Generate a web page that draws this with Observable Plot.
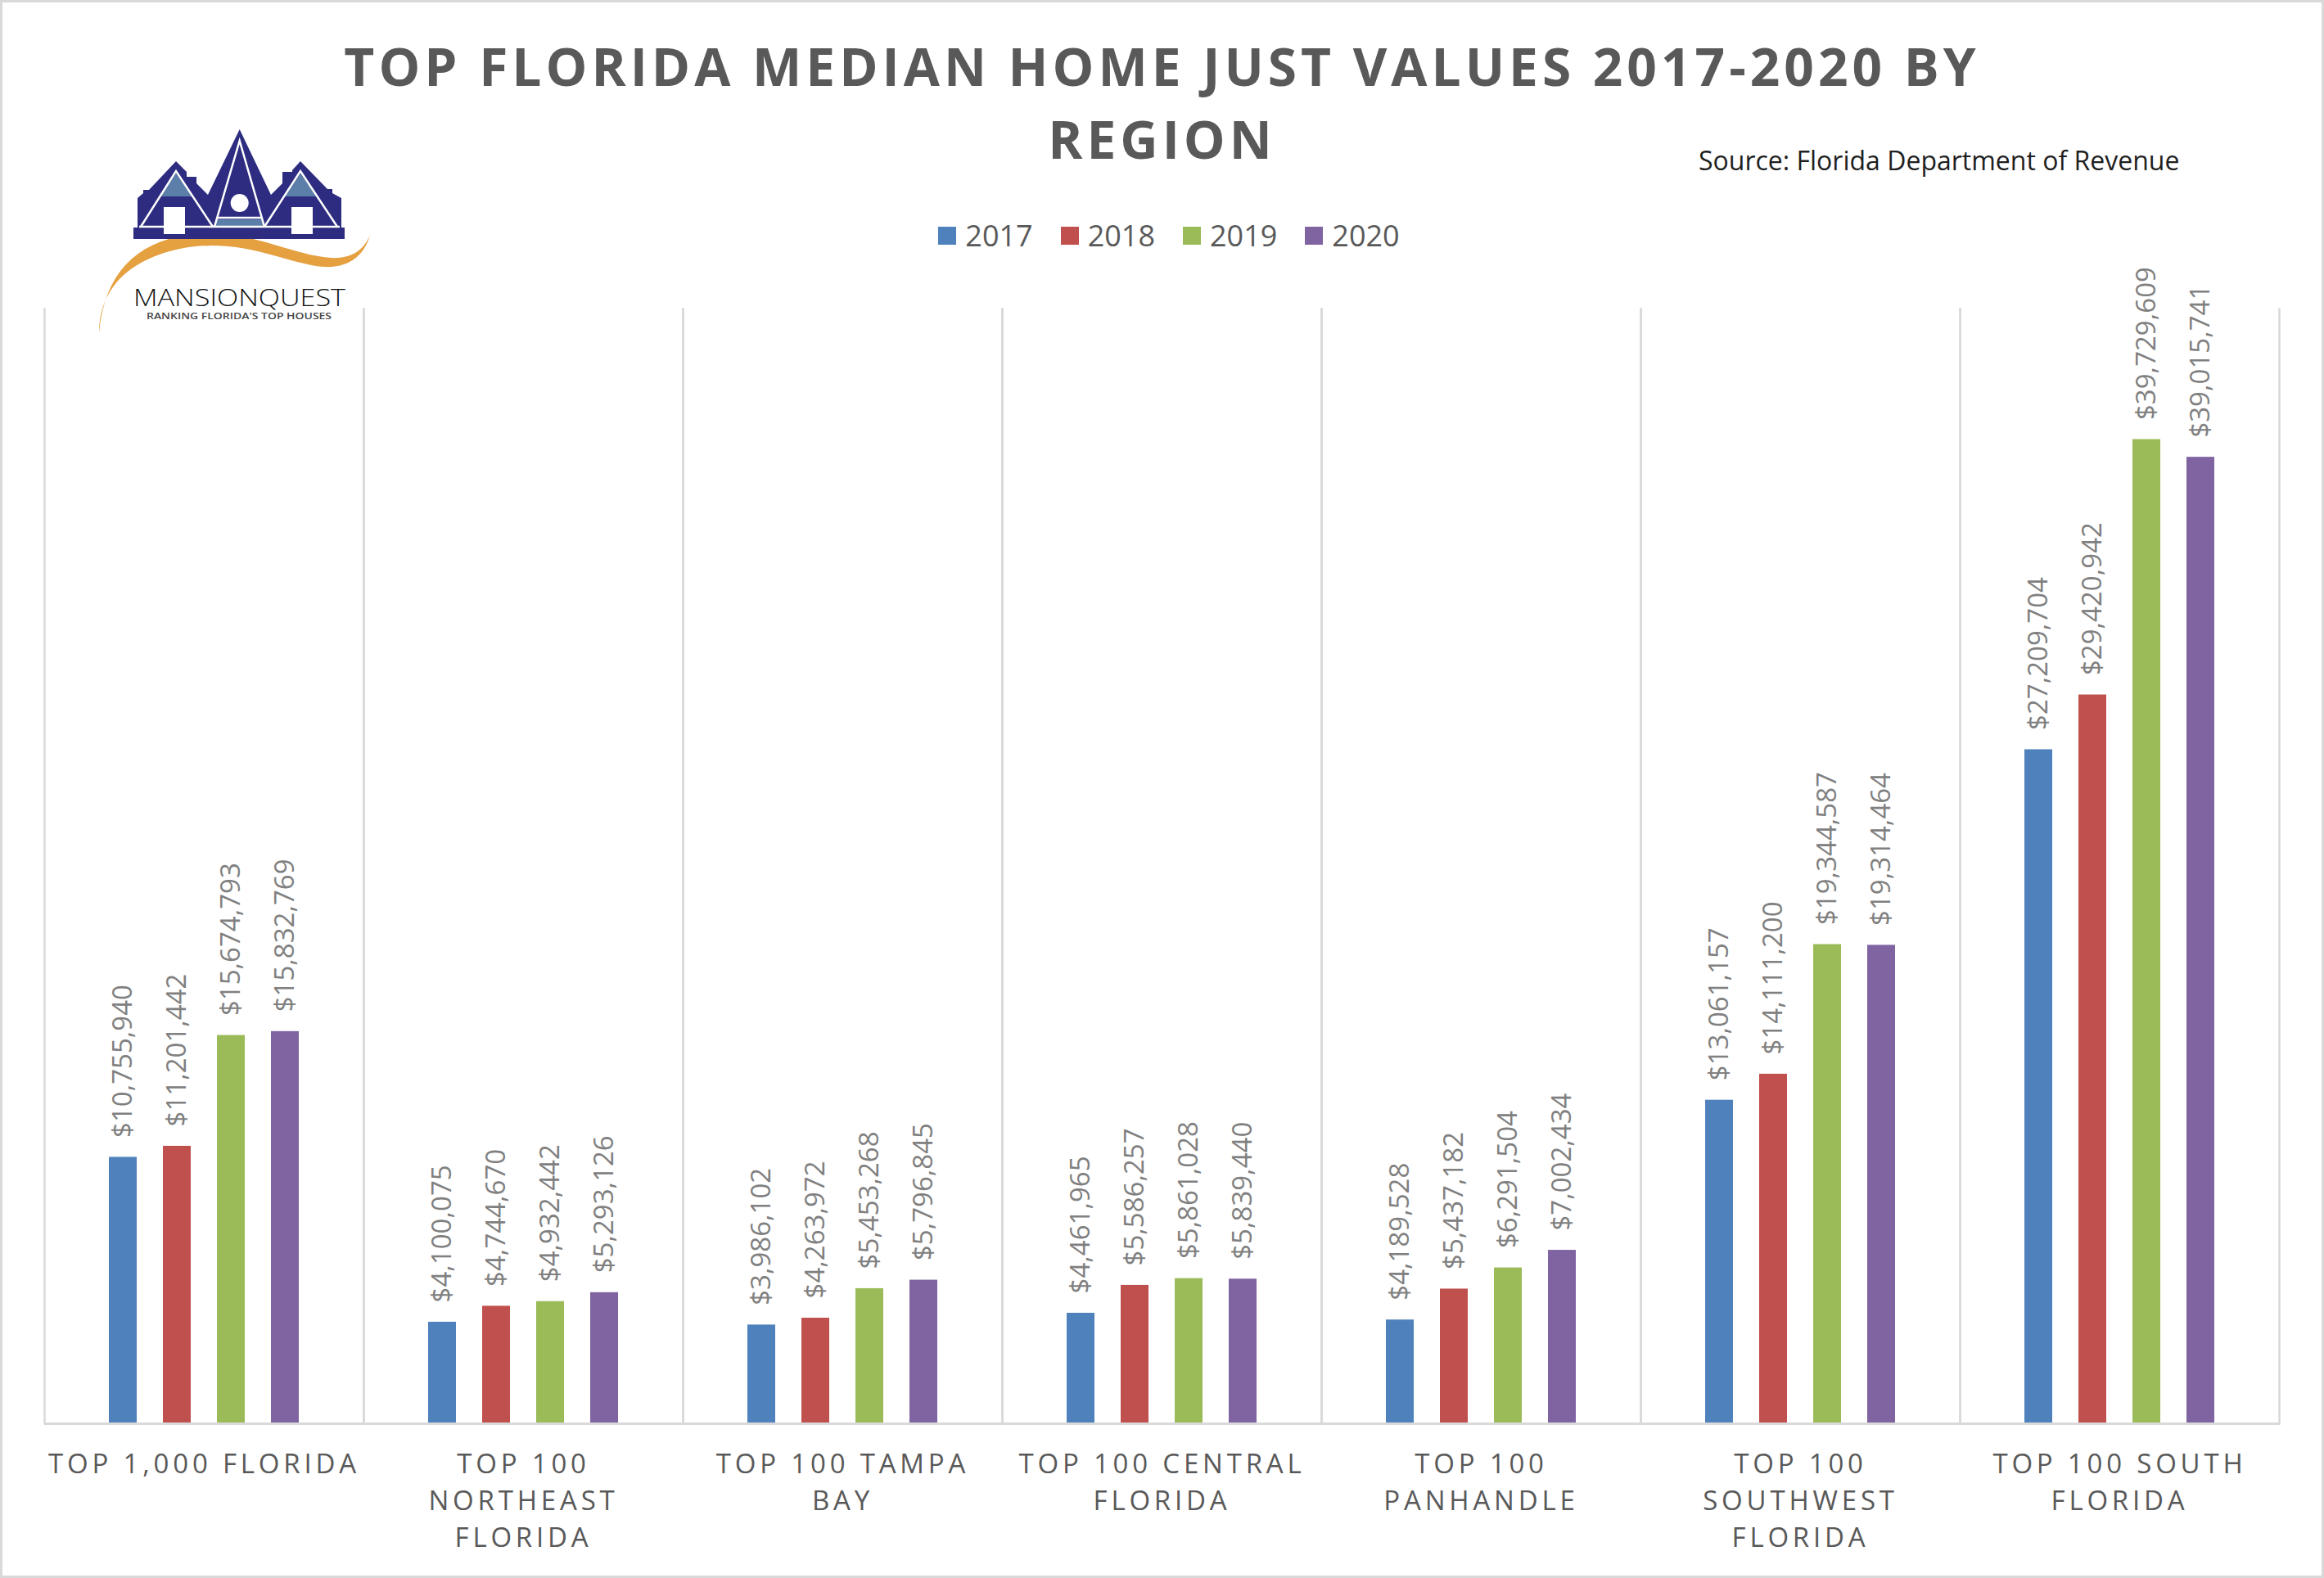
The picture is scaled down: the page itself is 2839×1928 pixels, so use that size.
<!DOCTYPE html>
<html>
<head>
<meta charset="utf-8">
<script src="https://cdn.jsdelivr.net/npm/d3@7"></script>
<script src="https://cdn.jsdelivr.net/npm/@observablehq/plot@0.6"></script>
<style>
  html, body { margin: 0; padding: 0; background: #fff; }
  #page { position: relative; width: 2839px; height: 1928px; overflow: hidden; background: #fff; font-family: "Open Sans", sans-serif; }
  #border { position: absolute; left: 0; top: 0; width: 2839px; height: 1928px; box-sizing: border-box; border: 3px solid #d9d9d9; pointer-events: none; z-index: 5; }
  #title { position: absolute; left: 0; top: 36px; width: 2839px; text-align: center; font-weight: 700; font-size: 64px; line-height: 89px; letter-spacing: 5px; color: #595959; white-space: nowrap; }
  #source { position: absolute; left: 2075px; top: 176px; font-size: 32px; line-height: 40px; color: #1f1f1f; white-space: nowrap; }
  #legend { position: absolute; left: 0; top: 263px; width: 2839px; height: 50px; display: flex; justify-content: center; align-items: center; padding-left: 17px; box-sizing: border-box; }
  #legend .item { display: flex; align-items: center; margin-right: 34px; }
  #legend .item:last-child { margin-right: 0; }
  #legend .sw { width: 22px; height: 22px; margin-right: 11px; }
  #legend .lb { font-size: 36px; line-height: 50px; color: #595959; }
  #logo { position: absolute; left: 0; top: 0; }
  #chart { position: absolute; left: 0; top: 300px; }
</style>
</head>
<body>
<div id="page">
  <svg id="logo" width="500" height="420" viewBox="0 0 500 420">
    <path d="M121,406 C122,350 160,314 230,302 C300,292 350,322 395,326 C428,328 446,310 452,287 C442,312 420,318 395,314 C350,309 300,278 230,287 C165,296 128,335 121,406 Z" fill="#e5a03f"/>
    <polygon fill="#2e2c80" points="163,292 163,278 168,278 168,242 175,236 175,232 182,232 215,197 228,210 228,216 240,216 240,224 254,238 292.7,158 331,238 345,224 345,210 357,210 357,208 367,197 400,231 406,231 406,236 417,242 417,278 421,278 421,292"/>
    <polygon fill="#5b7fa8" points="215,212 196,240 235,240"/>
    <polygon fill="#5b7fa8" points="367,212 348,240 387,240"/>
    <polygon fill="#5b7fa8" points="265,268 321,268 324,276 262,276"/>
    <g stroke="#fff" stroke-width="2.5" fill="none">
      <polyline points="172,277 215,209 260,277"/>
      <polyline points="323,277 367,209 412,277"/>
      <polyline points="262,277 292.7,172 323,277"/>
      <line x1="170" y1="277" x2="415" y2="277"/>
      <line x1="266" y1="266" x2="320" y2="266"/>
    </g>
    <circle cx="292.7" cy="248" r="11" fill="#fff"/>
    <rect x="200" y="253" width="26" height="33" fill="#fff"/>
    <rect x="356" y="253" width="26" height="33" fill="#fff"/>
    <text x="163" y="374" font-family="Open Sans" font-weight="300" font-size="30" textLength="259" lengthAdjust="spacingAndGlyphs" fill="#111">MANSIONQUEST</text>
    <text x="179" y="390" font-family="Open Sans" font-weight="600" font-size="11.5" textLength="226" lengthAdjust="spacingAndGlyphs" fill="#444">RANKING FLORIDA'S TOP HOUSES</text>
  </svg>
  <div id="title">TOP FLORIDA MEDIAN HOME JUST VALUES 2017-2020 BY<br>REGION</div>
  <div id="source">Source: Florida Department of Revenue</div>
  <div id="legend"></div>
  <div id="chart"></div>
  <div id="border"></div>
</div>
<script>
// ---- data ----
const regions = [
  "Top 1,000 Florida",
  "Top 100 Northeast Florida",
  "Top 100 Tampa Bay",
  "Top 100 Central Florida",
  "Top 100 Panhandle",
  "Top 100 Southwest Florida",
  "Top 100 South Florida"
];
const regionLabels = [
  "TOP 1,000 FLORIDA",
  "TOP 100\nNORTHEAST\nFLORIDA",
  "TOP 100 TAMPA\nBAY",
  "TOP 100 CENTRAL\nFLORIDA",
  "TOP 100\nPANHANDLE",
  "TOP 100\nSOUTHWEST\nFLORIDA",
  "TOP 100 SOUTH\nFLORIDA"
];
const years = ["2017", "2018", "2019", "2020"];
const colors = ["#4f81bd", "#c0504d", "#9bbb59", "#8064a2"];
const values2017 = [10755940, 4100075, 3986102, 4461965, 4189528, 13061157, 27209704];
const values2018 = [11201442, 4744670, 4263972, 5586257, 5437182, 14111200, 29420942];
const values2019 = [15674793, 4932442, 5453268, 5861028, 6291504, 19344587, 39729609];
const values2020 = [15832769, 5293126, 5796845, 5839440, 7002434, 19314464, 39015741];
const yMax = 45000000;

const series = [values2017, values2018, values2019, values2020];
const data = [];
regions.forEach((r, i) => {
  years.forEach((y, j) => data.push({region: r, year: y, value: series[j][i]}));
});
const labelData = regions.map((r, i) => ({region: r, label: regionLabels[i]}));
const fmt = d3.format(",");

// ---- legend ----
const legend = document.getElementById("legend");
years.forEach((y, i) => {
  const item = document.createElement("div");
  item.className = "item";
  const sw = document.createElement("div");
  sw.className = "sw";
  sw.style.background = colors[i];
  const lb = document.createElement("div");
  lb.className = "lb";
  lb.textContent = y;
  item.appendChild(sw);
  item.appendChild(lb);
  legend.appendChild(item);
});

// ---- chart ----
const chart = Plot.plot({
  width: 2839,
  height: 1625,
  marginTop: 77,
  marginBottom: 186,
  marginLeft: 52,
  marginRight: 54,
  style: {fontFamily: "Open Sans", background: "transparent", overflow: "visible"},
  fx: {domain: regions, padding: 0, axis: null},
  x: {domain: years, paddingInner: 0.48, paddingOuter: 1.18, axis: null},
  y: {domain: [0, yMax], axis: null},
  color: {domain: years, range: colors},
  marks: [
    Plot.frame({anchor: "left", stroke: "#d9d9d9", strokeWidth: 2.5}),
    Plot.frame({anchor: "right", stroke: "#d9d9d9", strokeWidth: 2.5}),
    Plot.barY(data, {fx: "region", x: "year", y: "value", fill: "year"}),
    Plot.ruleY([0], {stroke: "#d9d9d9", strokeWidth: 3}),
    Plot.text(data, {
      fx: "region", x: "year", y: "value",
      text: d => "$" + fmt(d.value),
      rotate: -90, textAnchor: "start", lineAnchor: "middle",
      dy: -24, fill: "#808080", fontSize: 33
    }),
    Plot.text(labelData, {
      fx: "region", text: "label",
      frameAnchor: "bottom", lineAnchor: "top", dy: 29,
      fontSize: 33, lineHeight: 1.36, fill: "#595959"
    })
  ]
});
document.getElementById("chart").appendChild(chart);
// letter spacing for category labels
const textGroups = chart.querySelectorAll('g[aria-label="text"]');
if (textGroups.length) {
  textGroups[textGroups.length - 1].style.letterSpacing = "4.8px";
}
</script>
</body>
</html>
